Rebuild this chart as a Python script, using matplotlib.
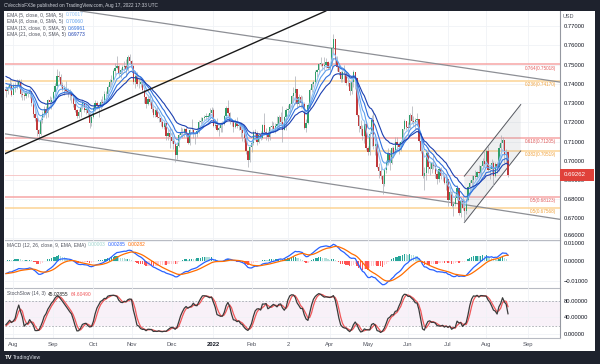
import numpy as np
import pandas as pd
import matplotlib
matplotlib.use('Agg')
import matplotlib.pyplot as plt
from matplotlib.patches import Rectangle, Polygon

plt.rcParams['font.family'] = ['Liberation Sans', 'DejaVu Sans']

# ---------------- data (AUD/USD daily) ----------------
# closes before the visible window, only used to warm up the indicators
warmup_close = [
    0.7740, 0.7710, 0.7660, 0.7745,
    0.7745, 0.7740, 0.7745, 0.7750, 0.7710,
    0.7700, 0.7690, 0.7630, 0.7520, 0.7485,
    0.7530, 0.7550, 0.7560, 0.7575, 0.7590,
    0.7560, 0.7505, 0.7500, 0.7480, 0.7525,
    0.7575, 0.7520, 0.7500, 0.7455, 0.7475,
    0.7465, 0.7435, 0.7480, 0.7420, 0.7400,
    0.7345, 0.7330, 0.7370, 0.7370, 0.7365,
    0.7375,
]

first_day = '2021-07-27'
last_day = '2022-08-17'

close = [
    0.7365, 0.7380, 0.7395, 0.7340,
    0.7395, 0.7390, 0.7390, 0.7410, 0.7345,
    0.7340, 0.7335, 0.7350, 0.7345, 0.7365,
    0.7300, 0.7245, 0.7220, 0.7160, 0.7140,
    0.7210, 0.7245, 0.7270, 0.7250, 0.7315,
    0.7305, 0.7315, 0.7355, 0.7390, 0.7440,
    0.7435, 0.7395, 0.7375, 0.7375, 0.7365,
    0.7355, 0.7350, 0.7335, 0.7295, 0.7265,
    0.7235, 0.7255, 0.7280, 0.7300, 0.7265,
    0.7270, 0.7250, 0.7195, 0.7230, 0.7275,
    0.7300, 0.7290, 0.7280, 0.7305, 0.7300,
    0.7345, 0.7345, 0.7385, 0.7410, 0.7420,
    0.7465, 0.7480, 0.7495, 0.7450, 0.7470,
    0.7485, 0.7490, 0.7475, 0.7540, 0.7520,
    0.7490, 0.7410, 0.7440, 0.7400, 0.7400,
    0.7410, 0.7370, 0.7330, 0.7295, 0.7320,
    0.7305, 0.7270, 0.7240, 0.7265, 0.7230,
    0.7220, 0.7200, 0.7175, 0.7195, 0.7130,
    0.7145, 0.7125, 0.7105, 0.7085, 0.7030,
    0.7075, 0.7135, 0.7150, 0.7145, 0.7165,
    0.7140, 0.7090, 0.7160, 0.7160, 0.7140,
    0.7140, 0.7155, 0.7200, 0.7205, 0.7220,
    0.7230, 0.7230, 0.7230, 0.7250, 0.7265,
    0.7180, 0.7185, 0.7160, 0.7170, 0.7195,
    0.7190, 0.7235, 0.7275, 0.7250, 0.7205,
    0.7200, 0.7175, 0.7200, 0.7180, 0.7185,
    0.7160, 0.7145, 0.7120, 0.7050, 0.7005,
    0.7070, 0.7090, 0.7150, 0.7145, 0.7095,
    0.7135, 0.7120, 0.7185, 0.7150, 0.7145,
    0.7125, 0.7175, 0.7180, 0.7165, 0.7180,
    0.7190, 0.7225, 0.7200, 0.7160, 0.7225,
    0.7265, 0.7270, 0.7295, 0.7335, 0.7350,
    0.7375, 0.7295, 0.7330, 0.7300, 0.7295,
    0.7170, 0.7195, 0.7290, 0.7370, 0.7400,
    0.7410, 0.7460, 0.7470, 0.7505, 0.7505,
    0.7490, 0.7500, 0.7515, 0.7480, 0.7490,
    0.7585, 0.7635, 0.7525, 0.7485, 0.7460,
    0.7425, 0.7460, 0.7455, 0.7405, 0.7405,
    0.7365, 0.7410, 0.7460, 0.7430, 0.7240,
    0.7180, 0.7165, 0.7130, 0.7190, 0.7065,
    0.7045, 0.7140, 0.7210, 0.7075, 0.7085,
    0.6970, 0.6945, 0.6920, 0.6880, 0.6950,
    0.6990, 0.7040, 0.6990, 0.7065, 0.7040,
    0.7100, 0.7080, 0.7070, 0.7100, 0.7165,
    0.7205, 0.7175, 0.7170, 0.7240, 0.7205,
    0.7200, 0.7210, 0.7215, 0.7105, 0.7050,
    0.6920, 0.6935, 0.7040, 0.6970, 0.6955,
    0.6990, 0.6975, 0.6930, 0.6905, 0.6955,
    0.6920, 0.6920, 0.6885, 0.6905, 0.6795,
    0.6835, 0.6765, 0.6775, 0.6805, 0.6860,
    0.6730, 0.6790, 0.6755, 0.6740, 0.6795,
    0.6865, 0.6885, 0.6900, 0.6920, 0.6915,
    0.6940, 0.6935, 0.6975, 0.7000, 0.6985,
    0.7050, 0.6950, 0.6955, 0.6990, 0.6920,
    0.6985, 0.6965, 0.7065, 0.7090, 0.7110,
    0.7030, 0.7045, 0.69262,
]

high = [
    0.7390, 0.7395, 0.7425, 0.7410,
    0.7405, 0.7410, 0.7425, 0.7425, 0.7425,
    0.7365, 0.7360, 0.7370, 0.7365, 0.7380,
    0.7365, 0.7300, 0.7275, 0.7230, 0.7165,
    0.7225, 0.7260, 0.7285, 0.7285, 0.7320,
    0.7335, 0.7330, 0.7365, 0.7405, 0.7478,
    0.7465, 0.7450, 0.7410, 0.7395, 0.7415,
    0.7380, 0.7375, 0.7365, 0.7340, 0.7315,
    0.7270, 0.7270, 0.7295, 0.7315, 0.7305,
    0.7300, 0.7285, 0.7255, 0.7245, 0.7285,
    0.7315, 0.7310, 0.7300, 0.7320, 0.7335,
    0.7365, 0.7365, 0.7395, 0.7425, 0.7445,
    0.7475, 0.7510, 0.7545, 0.7500, 0.7480,
    0.7500, 0.7520, 0.7530, 0.7550, 0.7556,
    0.7525, 0.7500, 0.7450, 0.7460, 0.7425,
    0.7435, 0.7420, 0.7370, 0.7335, 0.7340,
    0.7345, 0.7320, 0.7285, 0.7270, 0.7280,
    0.7255, 0.7225, 0.7210, 0.7205, 0.7195,
    0.7165, 0.7175, 0.7165, 0.7125, 0.7095,
    0.7085, 0.7145, 0.7175, 0.7170, 0.7170,
    0.7175, 0.7145, 0.7165, 0.7215, 0.7165,
    0.7150, 0.7170, 0.7210, 0.7225, 0.7230,
    0.7240, 0.7250, 0.7245, 0.7275, 0.7278,
    0.7275, 0.7215, 0.7220, 0.7180, 0.7200,
    0.7205, 0.7240, 0.7285, 0.7314, 0.7255,
    0.7215, 0.7210, 0.7215, 0.7225, 0.7190,
    0.7200, 0.7170, 0.7180, 0.7125, 0.7040,
    0.7075, 0.7115, 0.7160, 0.7165, 0.7155,
    0.7145, 0.7155, 0.7190, 0.7250, 0.7170,
    0.7155, 0.7180, 0.7205, 0.7200, 0.7195,
    0.7235, 0.7240, 0.7255, 0.7285, 0.7235,
    0.7275, 0.7290, 0.7300, 0.7340, 0.7385,
    0.7440, 0.7345, 0.7345, 0.7340, 0.7335,
    0.7305, 0.7215, 0.7300, 0.7380, 0.7410,
    0.7420, 0.7470, 0.7475, 0.7510, 0.7540,
    0.7510, 0.7540, 0.7535, 0.7520, 0.7510,
    0.7590, 0.7661, 0.7630, 0.7545, 0.7505,
    0.7465, 0.7470, 0.7500, 0.7460, 0.7420,
    0.7410, 0.7420, 0.7470, 0.7455, 0.7430,
    0.7240, 0.7210, 0.7185, 0.7200, 0.7195,
    0.7075, 0.7150, 0.7240, 0.7265, 0.7100,
    0.7085, 0.6990, 0.6985, 0.6925, 0.6960,
    0.7005, 0.7065, 0.7055, 0.7070, 0.7075,
    0.7125, 0.7125, 0.7095, 0.7110, 0.7165,
    0.7215, 0.7200, 0.7200, 0.7250, 0.7283,
    0.7235, 0.7220, 0.7250, 0.7210, 0.7115,
    0.7045, 0.6965, 0.7045, 0.7070, 0.7000,
    0.6995, 0.7030, 0.6985, 0.6945, 0.6965,
    0.6965, 0.6945, 0.6925, 0.6910, 0.6905,
    0.6865, 0.6845, 0.6790, 0.6825, 0.6875,
    0.6835, 0.6800, 0.6815, 0.6800, 0.6805,
    0.6870, 0.6900, 0.6925, 0.6925, 0.6950,
    0.6945, 0.6980, 0.6980, 0.7015, 0.7050,
    0.7060, 0.7075, 0.6970, 0.7010, 0.7000,
    0.6995, 0.6995, 0.7085, 0.7136, 0.7125,
    0.7105, 0.7060, 0.7050,
]

low = [
    0.7330, 0.7345, 0.7370, 0.7335,
    0.7345, 0.7355, 0.7375, 0.7380, 0.7330,
    0.7315, 0.7315, 0.7325, 0.7330, 0.7325,
    0.7285, 0.7230, 0.7205, 0.7130, 0.7106,
    0.7135, 0.7195, 0.7230, 0.7220, 0.7225,
    0.7285, 0.7270, 0.7295, 0.7340, 0.7375,
    0.7420, 0.7385, 0.7365, 0.7340, 0.7355,
    0.7330, 0.7315, 0.7300, 0.7280, 0.7255,
    0.7220, 0.7220, 0.7225, 0.7270, 0.7255,
    0.7245, 0.7225, 0.7170, 0.7180, 0.7220,
    0.7260, 0.7270, 0.7225, 0.7270, 0.7280,
    0.7295, 0.7315, 0.7330, 0.7375, 0.7395,
    0.7410, 0.7445, 0.7475, 0.7435, 0.7430,
    0.7455, 0.7465, 0.7440, 0.7465, 0.7505,
    0.7460, 0.7400, 0.7380, 0.7390, 0.7380,
    0.7385, 0.7360, 0.7300, 0.7275, 0.7290,
    0.7290, 0.7255, 0.7230, 0.7230, 0.7220,
    0.7200, 0.7180, 0.7170, 0.7165, 0.7110,
    0.7110, 0.7065, 0.7090, 0.7060, 0.6993,
    0.7010, 0.7070, 0.7125, 0.7120, 0.7125,
    0.7125, 0.7085, 0.7080, 0.7150, 0.7120,
    0.7085, 0.7125, 0.7145, 0.7190, 0.7195,
    0.7210, 0.7210, 0.7205, 0.7225, 0.7230,
    0.7175, 0.7170, 0.7155, 0.7130, 0.7150,
    0.7150, 0.7185, 0.7220, 0.7245, 0.7190,
    0.7180, 0.7150, 0.7170, 0.7170, 0.7160,
    0.7125, 0.7105, 0.7100, 0.7035, 0.6967,
    0.6995, 0.7045, 0.7080, 0.7110, 0.7080,
    0.7090, 0.7110, 0.7115, 0.7135, 0.7110,
    0.7105, 0.7110, 0.7150, 0.7150, 0.7145,
    0.7170, 0.7165, 0.7190, 0.7095, 0.7160,
    0.7160, 0.7235, 0.7245, 0.7270, 0.7305,
    0.7295, 0.7280, 0.7285, 0.7275, 0.7275,
    0.7165, 0.7150, 0.7190, 0.7270, 0.7355,
    0.7385, 0.7395, 0.7435, 0.7450, 0.7490,
    0.7470, 0.7470, 0.7480, 0.7475, 0.7450,
    0.7480, 0.7560, 0.7500, 0.7465, 0.7445,
    0.7410, 0.7410, 0.7410, 0.7395, 0.7390,
    0.7340, 0.7345, 0.7385, 0.7375, 0.7235,
    0.7150, 0.7135, 0.7110, 0.7090, 0.7055,
    0.7030, 0.7030, 0.7075, 0.7060, 0.7030,
    0.6960, 0.6910, 0.6905, 0.6829, 0.6870,
    0.6935, 0.6980, 0.6950, 0.6985, 0.7015,
    0.7035, 0.7055, 0.7035, 0.7050, 0.7100,
    0.7160, 0.7160, 0.7130, 0.7165, 0.7195,
    0.7180, 0.7165, 0.7190, 0.7095, 0.7040,
    0.6910, 0.6850, 0.6900, 0.6935, 0.6925,
    0.6935, 0.6955, 0.6910, 0.6880, 0.6890,
    0.6905, 0.6895, 0.6880, 0.6850, 0.6765,
    0.6790, 0.6760, 0.6715, 0.6765, 0.6795,
    0.6720, 0.6710, 0.6745, 0.6681, 0.6725,
    0.6790, 0.6825, 0.6870, 0.6860, 0.6905,
    0.6905, 0.6920, 0.6925, 0.6955, 0.6970,
    0.6970, 0.6945, 0.6905, 0.6935, 0.6870,
    0.6915, 0.6935, 0.6945, 0.7045, 0.7060,
    0.6990, 0.6985, 0.6915,
]

# Fibonacci retracement levels drawn on the chart
fib_levels = [0.75018, 0.74170, 0.71205, 0.70519, 0.68123, 0.67568]
fib_labels = ['0.764(0.75018)', '0.236(0.74170)', '0.618(0.71205)',
              '0.382(0.70519)', '0.5(0.68123)', '0.5(0.67568)']
fib_kind = ['red', 'orange', 'red', 'orange', 'red', 'orange']

# trend line anchors: (date, price) pairs
down_upper = [('2021-07-27', 0.7836), ('2022-08-17', 0.7449)]
down_lower = [('2021-07-27', 0.7139), ('2022-08-17', 0.6737)]
up_black = [('2021-07-27', 0.7039), ('2022-08-17', 0.8200)]
chan_lower = [('2022-07-14', 0.6679), ('2022-08-26', 0.7051)]
chan_upper = [('2022-07-14', 0.6920), ('2022-08-26', 0.7292)]

ema_periods = [5, 8, 13, 21]
ema_values = ['0.70017', '0.70060', '0.69961', '0.69773']
macd_values = ['0.00003', '0.00285', '0.00282']
stoch_values = ['45.02855', '64.60490']

month_starts = ['2021-08', '2021-09', '2021-10', '2021-11', '2021-12', '2022-01',
                '2022-02', '2022-03', '2022-04', '2022-05', '2022-06', '2022-07',
                '2022-08', '2022-09']
month_labels = ['Aug', 'Sep', 'Oct', 'Nov', 'Dec', '2022', 'Feb', '2', 'Apr',
                'May', 'Jun', 'Jul', 'Aug', 'Sep']

price_ticks = np.round(np.arange(0.66, 0.7701, 0.01), 2)

# ---------------- helpers ----------------
W, H = 600, 364
close = np.array(close)
high = np.array(high)
low = np.array(low)
days = pd.bdate_range(first_day, '2022-09-30')
n = len(close)
if not (len(high) == n == len(low) == len(pd.bdate_range(first_day, last_day))):
    raise ValueError((n, len(high), len(low), len(pd.bdate_range(first_day, last_day))))
day_index = {d: i for i, d in enumerate(days)}


def idx(d):
    return day_index[pd.Timestamp(d)]


def rect(x0, y0, x1, y1):
    return [x0 / W, 1 - y1 / H, (x1 - x0) / W, (y1 - y0) / H]


all_close = pd.Series(np.r_[warmup_close, close])
all_high = pd.Series(np.r_[warmup_close, high])
all_low = pd.Series(np.r_[warmup_close, low])
nw = len(warmup_close)


def ema(s, span):
    return s.ewm(span=span, adjust=False).mean()


emas = [ema(all_close, p).values[nw:] for p in ema_periods]
macd_all = ema(all_close, 12) - ema(all_close, 26)
sig_all = ema(macd_all, 9)
hist_all = macd_all - sig_all
macd = macd_all.values[nw:]
sig = sig_all.values[nw:]
hist = hist_all.values[nw:]
hist_prev = hist_all.values[nw - 1:-1]
hh = all_high.rolling(14, min_periods=1).max()
ll = all_low.rolling(14, min_periods=1).min()
fast_k = 100 * (all_close - ll) / (hh - ll)
slow_k = fast_k.rolling(3, min_periods=1).mean()
slow_d = slow_k.rolling(3, min_periods=1).mean()
stk = slow_k.values[nw:]
std = slow_d.values[nw:]

x = np.arange(n)
opens = np.r_[warmup_close[-1], close[:-1]]
up = close >= opens

# x mapping: first bar at pixel 6, last bar at pixel 508
ppb = (508 - 6) / (n - 1)
xl0 = -(6 - 5) / ppb
xl1 = xl0 + (560 - 5) / ppb
tick_pos = [idx(days[days.strftime('%Y-%m') == m][0]) for m in month_starts]

frame = '#1e222d'
grid = '#f0f2f6'
sep = '#b8bbc3'
txt = '#131722'
lab = '#50535e'

fig = plt.figure(figsize=(W / 100, H / 100), dpi=100, facecolor=frame)
bg = fig.add_axes(rect(4, 11, 595, 351))
bg.set_facecolor('white')
bg.set_xticks([])
bg.set_yticks([])
for s in bg.spines.values():
    s.set_visible(False)

ax = fig.add_axes(rect(5, 11, 560, 240))
axm = fig.add_axes(rect(5, 240, 560, 288))
axs = fig.add_axes(rect(5, 288, 560, 338))

for a in (ax, axm, axs):
    a.set_facecolor('none')
    a.set_xlim(xl0, xl1)
    a.set_xticks(tick_pos)
    a.yaxis.tick_right()
    a.tick_params(length=0, labelsize=4.2, labelcolor=txt, pad=2.6)
    a.grid(True, color=grid, lw=0.6)
    a.set_axisbelow(True)
    a.spines['left'].set_visible(False)
    a.spines['top'].set_visible(False)
    a.spines['bottom'].set_color(sep)
    a.spines['bottom'].set_linewidth(0.8)
    a.spines['right'].set_color('#9598a1')
    a.spines['right'].set_linewidth(0.8)
ax.tick_params(labelbottom=False)
axm.tick_params(labelbottom=False)
axs.set_xticklabels(month_labels)
for t in axs.get_xticklabels():
    t.set_color(lab)
    if t.get_text() == '2022':
        t.set_fontweight('bold')
        t.set_color(txt)
axs.tick_params(axis='x', pad=3.2)

# ---------------- main pane ----------------
ax.set_ylim(0.65880, 0.77785)
ax.set_yticks(price_ticks)
ax.set_yticklabels([f'{v:.5f}' for v in price_ticks])
ax.get_yticklabels()[0].set_va('bottom')

for lvl, kind in zip(fib_levels, fib_kind):
    ax.axhline(lvl, color='#f7a5a5' if kind == 'red' else '#fcd395', lw=1.1, zorder=1)
for lvl, txtl, kind in zip(fib_levels, fib_labels, fib_kind):
    ax.annotate(txtl, xy=(0.993, lvl), xycoords=ax.get_yaxis_transform(),
                xytext=(0, -1.0), textcoords='offset points', ha='right', va='top',
                fontsize=3.3, color='#e35d5d' if kind == 'red' else '#f0a13a')

ax.axhline(close[-1], color='#f6c0c0', lw=0.6, zorder=1)


def anchor_pts(anchors):
    (d0, p0), (d1, p1) = anchors
    return (idx(d0), p0), (idx(d1), p1)


def draw_segment(a, anchors, **kw):
    (i0, p0), (i1, p1) = anchor_pts(anchors)
    a.plot([i0, i1], [p0, p1], **kw)


def draw_ray(a, anchors, **kw):
    a.axline(*anchor_pts(anchors), **kw)


c0, c1 = idx(chan_lower[0][0]), idx(chan_lower[1][0])
ax.add_patch(Polygon([(c0, chan_lower[0][1]), (c1, chan_lower[1][1]),
                      (c1, chan_upper[1][1]), (c0, chan_upper[0][1])],
                     closed=True, facecolor='#a0a4ab', alpha=0.16, lw=0, zorder=1))
draw_ray(ax, down_upper, color='#8d8f95', lw=0.9, zorder=2)
draw_ray(ax, down_lower, color='#8d8f95', lw=0.9, zorder=2)
draw_segment(ax, chan_lower, color='#55585f', lw=0.7, zorder=2)
draw_segment(ax, chan_upper, color='#55585f', lw=0.7, zorder=2)

ax.vlines(x, low, high, color='#a9acb3', lw=0.5, zorder=3)
body_lo = np.minimum(opens, close)
body_h = np.maximum(np.abs(close - opens), 0.00012)
ax.bar(x[up], body_h[up], bottom=body_lo[up], width=0.7, color='#2f9e6a', lw=0, zorder=4)
ax.bar(x[~up], body_h[~up], bottom=body_lo[~up], width=0.7, color='#c0393b', lw=0, zorder=4)

ema_colors = ['#90c2f5', '#5e9fec', '#2f6fdc', '#1b3fb0']
for e, c in zip(emas, ema_colors):
    ax.plot(x, e, color=c, lw=0.8, zorder=5)

draw_ray(ax, up_black, color='#1a1a1a', lw=1.0, zorder=6)

# last price tag on the axis
ax.add_patch(Rectangle((1.0, close[-1] - 0.0029), 0.062, 0.0058, transform=ax.get_yaxis_transform(),
                       facecolor='#e0413a', edgecolor='none', clip_on=False, zorder=10))
ax.text(1.006, close[-1], f'{close[-1]:.5f}', transform=ax.get_yaxis_transform(),
        fontsize=4.4, color='white', va='center', ha='left', zorder=11, clip_on=False)
fig.text(563 / W, 1 - 16 / H, 'USD', fontsize=4.0, color=lab, va='center')

# ---------------- MACD ----------------
axm.set_ylim(-0.0135, 0.0105)
axm.set_yticks([0.01, 0.0, -0.01])
axm.set_yticklabels(['0.01000', '0.00000', '\u22120.01000'])
axm.get_yticklabels()[0].set_va('top')
hcol = np.where(hist >= 0, np.where(hist >= hist_prev, '#26a69a', '#b2dfdb'),
                np.where(hist < hist_prev, '#ff5252', '#ffcdd2'))
axm.bar(x, hist, width=0.7, color=hcol, lw=0, zorder=2)
axm.plot(x, macd, color='#2962ff', lw=0.9, zorder=3)
axm.plot(x, sig, color='#ff6d00', lw=0.9, zorder=3)

# ---------------- Stochastic ----------------
axs.set_ylim(-9.7, 111.5)
axs.set_yticks([80, 40, 0])
axs.set_yticklabels(['80.00000', '40.00000', '0.00000'])
axs.axhspan(20, 80, color='#f8f1f8', lw=0, zorder=0)
axs.axhline(80, color='#a6a9b0', lw=0.6, ls=(0, (2, 2)), zorder=1)
axs.axhline(20, color='#a6a9b0', lw=0.6, ls=(0, (2, 2)), zorder=1)
axs.plot(x, std, color='#f0585a', lw=0.9, zorder=2)
axs.plot(x, stk, color='#3a3a3a', lw=0.9, zorder=3)

# ---------------- legends ----------------
fig.canvas.draw()
rend = fig.canvas.get_renderer()


def legend_row(xp, yp, parts, size=3.5):
    for s, c in parts:
        t = fig.text(xp / W, 1 - yp / H, s, fontsize=size, color=c, va='center', ha='left')
        xp = t.get_window_extent(rend).x1 + 2


for k, (p, v, c) in enumerate(zip(ema_periods, ema_values, ema_colors)):
    legend_row(7, 15 + 6.6 * k, [(f'EMA ({p}, close, 0, SMA, 5)', lab), (v, c)])
legend_row(7, 245, [('MACD (12, 26, close, 9, EMA, EMA)', lab),
                    (macd_values[0], '#9fd6cf'), (macd_values[1], '#2962ff'),
                    (macd_values[2], '#ff6d00')])
legend_row(7, 294, [('StochSlow (14, 3)', lab), (stoch_values[0], '#222222'),
                    (stoch_values[1], '#f0585a')])

# header / footer
fig.text(4 / W, 1 - 5.5 / H, 'CVecchioFX3e published on TradingView.com, Aug 17, 2022 17:33 UTC',
         fontsize=3.4, color='#d1d4dc', va='center')
fig.text(5 / W, 1 - 357.5 / H, 'TV', fontsize=4.2, color='white', fontweight='bold', va='center')
fig.text(13 / W, 1 - 357.5 / H, 'TradingView', fontsize=3.6, color='#e0e3eb', va='center')

fig.savefig('out.png', dpi=100, facecolor=frame)
